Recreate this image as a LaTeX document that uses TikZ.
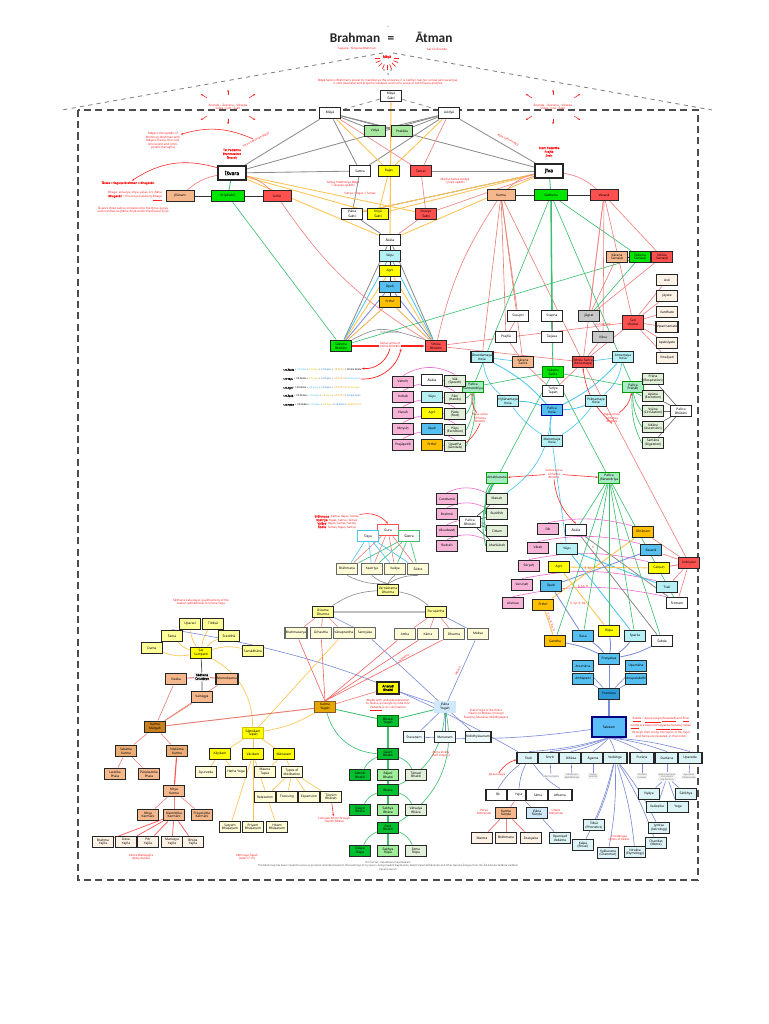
\documentclass[tikz,border=0pt]{standalone}
\usepackage{fontspec}
\setmainfont{Noto Sans}[AutoFakeBold=2]
\newfontfamily\titlefont{Carlito}
\usetikzlibrary{arrows.meta,calc}
\definecolor{vayuCyan}{HTML}{B4F0F4}
\definecolor{agniYellow}{HTML}{FFFF00}
\definecolor{apahBlue}{HTML}{55BFF0}
\definecolor{prthviOrange}{HTML}{FFC000}
\definecolor{sattvaGreen}{HTML}{00E600}
\definecolor{tamasRed}{HTML}{FF5050}
\definecolor{karmaTan}{HTML}{F4B88C}
\definecolor{mintGreen}{HTML}{A6EBC4}
\definecolor{paleGreen}{HTML}{E2F0D9}
\definecolor{vidyaGreen}{HTML}{A9E8A0}
\definecolor{devaPink}{HTML}{F7B3D6}
\definecolor{vikaraBeige}{HTML}{FDF2E6}
\definecolor{creamYellow}{HTML}{FFFDD8}
\definecolor{paleYellow}{HTML}{FFFF99}
\definecolor{jagratGrey}{HTML}{C8C8C8}
\definecolor{karmaBronze}{HTML}{C8801E}
\definecolor{karmaOrange}{HTML}{E6A800}
\definecolor{jnanaBlue}{HTML}{CFE8FA}
\definecolor{darkGreen}{HTML}{00C030}
\definecolor{paleCyan}{HTML}{DDF4F6}
\definecolor{pramanaBlue}{HTML}{2E9BD8}
\definecolor{sabdamBlue}{HTML}{5BBDF5}
\definecolor{lineGrey}{HTML}{8C8C8C}
\definecolor{lineRed}{HTML}{F08080}
\definecolor{lineGreen}{HTML}{3CBF6E}
\definecolor{lineCyan}{HTML}{49C6F0}
\definecolor{lineBlue}{HTML}{7C8CD6}
\definecolor{lineOrange}{HTML}{FFC34D}
\definecolor{linePink}{HTML}{F06CD0}
\definecolor{noteRed}{HTML}{FF2020}
\definecolor{textGrey}{HTML}{707070}
\definecolor{vayuTxt}{HTML}{40C0F0}
\definecolor{agniTxt}{HTML}{D4C000}
\definecolor{apahTxt}{HTML}{2A7FD0}
\definecolor{prthviTxt}{HTML}{F0A000}
\pgfdeclarelayer{bg}
\pgfsetlayers{bg,main}

\begin{document}
\begin{tikzpicture}[x=0.25mm,y=-0.25mm,
  box/.style={draw=black!85,line width=0.6pt,fill=white,align=center,inner sep=0.6pt,
    minimum width=15pt,minimum height=8pt,font=\fontsize{2.3}{2.6}\selectfont},
  thickbox/.style={box,line width=1.1pt},
  note/.style={text=noteRed,align=center,inner sep=0.3pt,font=\fontsize{2.1}{2.5}\selectfont},
  gnote/.style={text=textGrey,align=center,inner sep=0.3pt,font=\fontsize{1.6}{1.9}\selectfont},
  formula/.style={anchor=west,inner sep=0pt,font=\fontsize{1.7}{2}\selectfont},
  titletext/.style={anchor=base,inner sep=0pt,text=black!85,font=\titlefont\bfseries\fontsize{9.5}{9.5}\selectfont},
  edge/.style={line width=0.45pt}]
\useasboundingbox (0,0) rectangle (768,1024);

% ---------- title ----------
\node[titletext] (brahman) at (355,43) {Brahman};
\node[titletext] (equals) at (391,43) {=};
\node[titletext] (atman) at (434,43) {Ātman};
\node[note] (brahmanSub) at (357,49) {Saguṇa · Nirguṇa Brahman};
\node[note] (atmanSub) at (437,49) {Sat Cit Ānanda};
\node[note] (om) at (388,27) {*};
\node[note,font=\bfseries\fontsize{2.3}{2.6}\selectfont] (mayaTop) at (387,57) {Māyā};
\foreach \a in {0,22.5,...,180}
  \draw[noteRed,line width=0.5pt] ($(387,58)+(\a:7)$) -- ($(387,58)+(\a:12)$);
\foreach \p in {(384,70),(391,70),(388,74)} \fill[gray] \p circle (0.7pt);
\node[note] (mayaText) at (388,82) {Māyā Śakti is Brahman's power to manifest as the universe; it is neither real nor unreal (anirvacanīya),\\it veils (āvaraṇa) and projects (vikṣepa), and is the cause of both Īśvara and Jīva};
\coordinate (roofL) at (62,110);
\coordinate (roofR) at (712,110);
\draw[dashed,gray,line width=0.6pt] (383,53) -- (roofL);
\draw[dashed,gray,line width=0.6pt] (393,53) -- (roofR);
\draw[black!70,line width=0.9pt,dash pattern=on 5pt off 3pt] (78,110) rectangle (698,880);

% ---------- maya, isvara, jiva ----------
\node[thickbox] (mayasakti) at (391,96) {Māyā\\Śakti};
\node[thickbox] (maya) at (330,113) {Māyā};
\node[thickbox] (avidya) at (449,113) {Avidyā};
\node[box,fill=vidyaGreen] (vidya) at (375,131) {Vidyā};
\node[box,fill=vidyaGreen] (prakasa) at (402,131) {Prakāśa};
\node[thickbox,font=\bfseries\fontsize{3.6}{4}\selectfont,minimum width=20pt,minimum height=10pt] (isvara) at (232,173) {Īśvara};
\node[thickbox,font=\bfseries\fontsize{3.6}{4}\selectfont,minimum width=20pt,minimum height=10pt] (jiva) at (549,171) {Jīva};
\node[box] (sattva) at (360,171) {Sattva};
\node[box,fill=agniYellow] (rajas) at (389,171) {Rajas};
\node[box,fill=tamasRed] (tamas) at (421,171) {Tamas};
\node[box] (jnanaSakti) at (352,214) {Jñāna\\Śakti};
\node[box,fill=agniYellow] (kriyaSakti) at (378,214) {Kriyā\\Śakti};
\node[box,fill=tamasRed] (dravyaSakti) at (426,214) {Dravya\\Śakti};
\node[box,fill=karmaTan,minimum width=20pt] (jnanam) at (180,196) {Jñānam};
\node[box,fill=sattvaGreen,minimum width=24pt] (kriya) at (228,196) {Kriyāśakti};
\node[box,fill=tamasRed,minimum width=20pt] (iccha) at (277,196) {Icchā};
\node[box,fill=karmaTan,minimum width=20pt] (karma) at (501,195) {Karma};
\node[box,fill=sattvaGreen,minimum width=24pt] (sadhana) at (551,195) {Sādhana};
\node[box,fill=tamasRed,minimum width=20pt] (vasana) at (604,195) {Vāsanā};

\node[note,font=\bfseries\fontsize{2.1}{2.7}\selectfont] (tatNote) at (232,154) {Tat Padārtha\\Brahmasūtra\\Īśvaraḥ};
\node[note,font=\bfseries\fontsize{2.1}{2.7}\selectfont] (tvamNote) at (549,152) {Tvam Padārtha\\Prajñā\\Jīvaḥ};
\node[note] (upadhiNote) at (163,141) {Māyā is the upādhi of\\Brahman; Brahman with\\Māyā is Īśvara, the Lord,\\omniscient and omni-\\potent (Sarvajña)};
\node[note,rotate=28] (sarvaNote) at (256,140) {Sarva-śaktimān Māyā};
\node[note,rotate=-28] (alpaNote) at (508,140) {Alpa-śakti Avidyā};
\node[note,font=\bfseries\fontsize{2.1}{2.5}\selectfont] (bhagaNote) at (128,183) {Īśvara = Saguṇa Brahman = Bhagavān};
\node[note] (bhagaNote2) at (135,196) {Bhaga: aiśvarya, vīrya, yaśas, śrī, jñāna\\\textbf{Bhagavān} = the one possessing \underline{Bhaga}};
\node[note] (saktiNote) at (133,210) {Īśvara's three śaktis correspond to the three guṇas\\and manifest as Jñāna, Kriyā and Icchā (Īśvara Sṛṣṭi)};
\node[note] (burstL) at (228,107) {Ānanda – Āvaraṇa – Vikṣepa\\Vidyā · Jyoti · Śakti};
\node[note] (burstR) at (553,107) {Ānanda – Āvaraṇa – Vikṣepa\\Vidyā · Jyoti · Śakti};
\foreach \b in {burstL,burstR}
  \foreach \dx/\dy in {-21/-9,0/-12,21/-9,-21/9,0/12,21/9}
    \draw[noteRed,line width=0.4pt,-{Stealth[length=1.6pt]}] ($(\b)+(\dx,\dy)$) -- ($(\b)+(1.3*\dx,1.45*\dy)$);
\node[note] (sattvaPrad) at (343,184) {Sattva Prādhānya Māyā\\= Īśvara's upādhi};
\node[note] (gunaNote) at (360,194) {Sattva + Rajas + Tamas};
\node[note] (malinaNote) at (455,181) {Malina Sattva Avidyā\\= Jīva's upādhi};

% ---------- elements column ----------
\foreach \n/\y/\c/\t in {akasa/240/white/Ākāśa, vayu/256/vayuCyan/Vāyu, agni/271/agniYellow/Agni, apah/287/apahBlue/Āpaḥ, prthvi/302/prthviOrange/Pṛthvī}
  \node[thickbox,fill=\c] (\n) at (390,\y) {\t};
\node[thickbox,fill=sattvaGreen] (suksma) at (341,346) {Sūkṣma\\Bhūtāni};
\node[thickbox,fill=tamasRed] (sthula) at (436,346) {Sthūla\\Bhūtāni};
\node[gnote,font=\fontsize{2}{2.3}\selectfont] (panci) at (390,333) {Pañcīkaraṇam};
\node[note,fill=white] (tamasAmsa) at (390,345) {Tamas aṃśa of\\Pañca Bhūtāni};
\node[formula] (row1) at (283,370) {\textbf{1/2 Ākāśa} + \textcolor{vayuTxt}{1/8 Vāyu} + \textcolor{agniTxt}{1/8 Agni} + \textcolor{apahTxt}{1/8 Āpaḥ} + \textcolor{prthviTxt}{1/8 Pṛthvī} = Sthūla Ākāśa};
\node[formula] (row2) at (283,379) {\textbf{1/2 Vāyu} + 1/8 Ākāśa + \textcolor{agniTxt}{1/8 Agni} + \textcolor{apahTxt}{1/8 Āpaḥ} + \textcolor{prthviTxt}{1/8 Pṛthvī} = \textcolor{vayuTxt}{Sthūla Vāyu}};
\node[formula] (row3) at (283,388) {\textbf{1/2 Agni} + 1/8 Ākāśa + \textcolor{vayuTxt}{1/8 Vāyu} + \textcolor{apahTxt}{1/8 Āpaḥ} + \textcolor{prthviTxt}{1/8 Pṛthvī} = \textcolor{agniTxt}{Sthūla Agni}};
\node[formula] (row4) at (283,396) {\textbf{1/2 Āpaḥ} + 1/8 Ākāśa + \textcolor{vayuTxt}{1/8 Vāyu} + \textcolor{agniTxt}{1/8 Agni} + \textcolor{prthviTxt}{1/8 Pṛthvī} = \textcolor{apahTxt}{Sthūla Āpaḥ}};
\node[formula] (row5) at (283,405) {\textbf{1/2 Pṛthvī} + 1/8 Ākāśa + \textcolor{vayuTxt}{1/8 Vāyu} + \textcolor{agniTxt}{1/8 Agni} + \textcolor{apahTxt}{1/8 Āpaḥ} = \textcolor{prthviTxt}{Sthūla Pṛthvī}};

% ---------- avasthas, sariras, kosas ----------
\node[box,fill=karmaTan] (sk1) at (617,257) {Kāraṇa\\Samaṣṭi};
\node[box,fill=sattvaGreen] (sk2) at (640,257) {Sūkṣma\\Samaṣṭi};
\node[box,fill=tamasRed] (sk3) at (662,257) {Sthūla\\Samaṣṭi};
\node[box] (susupti) at (518,316) {Suṣupti};
\node[box] (svapna) at (552,316) {Svapna};
\node[box,fill=jagratGrey] (jagrat) at (589,316) {Jāgrat};
\node[box] (prajna) at (506,337) {Prajñā};
\node[box] (taijasa) at (552,337) {Taijasa};
\node[box,fill=jagratGrey] (visva) at (603,337) {Viśva};
\node[note] (parinama) at (603,325) {pariṇāmāḥ};
\node[box,fill=tamasRed,minimum height=10pt] (sadvik) at (633,322) {Ṣaḍ\\Vikāras};
\foreach \n/\y/\t in {asti/280/Asti, jayate/296/Jāyate, vardhate/312/Vardhate, viparin/327/Vipariṇamate, apaksiyate/343/Apakṣīyate, vinasyati/358/Vinaśyati}
  \node[thickbox,fill=vikaraBeige] (\n) at (667,\y) {\t};
\node[thickbox,fill=vayuCyan] (anandamaya) at (482,357) {Ānandamaya\\Kośa};
\node[box,fill=karmaTan] (karana) at (523,362) {Kāraṇa\\Śarīra};
\node[box,fill=tamasRed] (sthularir) at (583,362) {Sthūla Śarīra\\(Annamaya)};
\node[thickbox,fill=vayuCyan] (annamaya) at (623,357) {Annamaya\\Kośa};
\node[box,fill=sattvaGreen,draw=green!50!black] (suksmasar) at (553,372) {Sūkṣma\\Śarīra};
\node[box] (turiya) at (553,391) {Turīya\\Tapaḥ};
\node[box,fill=mintGreen,draw=green!60!black] (karmendriya) at (473,387) {Pañca\\Karmendriya};
\node[box,fill=mintGreen,draw=green!60!black] (prana5) at (633,387) {Pañca\\Prāṇāḥ};
\node[thickbox,fill=vayuCyan] (vijnanamaya) at (508,401) {Vijñānamaya\\Kośa};
\node[box,fill=apahBlue,draw=blue!60!black] (pancakosa) at (552,410) {Pañca\\Kośa};
\node[thickbox,fill=vayuCyan] (pranamaya) at (596,401) {Prāṇamaya\\Kośa};
\node[thickbox,fill=vayuCyan] (manomaya) at (552,441) {Manomaya\\Kośa};
\foreach \n/\y/\t in {dv1/382/Vahniḥ, dv2/397/Indraḥ, dv3/413/Viṣṇuḥ, dv4/429/Mṛtyuḥ, dv5/445/Prajāpatiḥ}
  \node[thickbox,fill=devaPink] (\n) at (403,\y) {\t};
\foreach \n/\y/\c/\t in {ek1/380/white/Ākāśa, ek2/397/vayuCyan/Vāyu, ek3/413/agniYellow/Agni, ek4/429/apahBlue/Āpaḥ, ek5/445/prthviOrange/Pṛthvī}
  \node[thickbox,fill=\c] (\n) at (432,\y) {\t};
\foreach \n/\y/\t in {or1/381/Vāk\\(Speech), or2/398/Pāṇi\\(Hands), or3/414/Pāda\\(Feet), or4/430/Pāyu\\(Excretion), or5/446/Upastha\\(Genitals)}
  \node[thickbox,fill=paleGreen] (\n) at (455,\y) {\t};
\foreach \n/\y/\t in {pv1/379/Prāṇa\\(Respiration), pv2/396/Apāna\\(Excretion), pv3/411/Vyāna\\(Circulation), pv4/427/Udāna\\(Ascension), pv5/443/Samāna\\(Digestion)}
  \node[thickbox,fill=paleGreen] (\n) at (653,\y) {\t};
\node[box] (pvayu) at (681,411) {Pañca\\Bhūtāni};
\node[note] (rajasL) at (480,418) {Rajas aṃśa\\of Pañca\\Bhūtāni};
\node[note] (rajasR) at (612,418) {Rajas aṃśa\\of Pañca\\Bhūtāni};

% ---------- antahkarana, jnanendriya ----------
\node[box,fill=mintGreen,draw=green!60!black] (antah) at (497,478) {Antaḥkaraṇa};
\node[box,fill=mintGreen,draw=green!60!black] (jnanendriya) at (609,478) {Pañca\\Jñānendriya};
\node[note] (sattvaAmsa) at (554,474) {Sattva aṃśa\\of Pañca\\Bhūtāni};
\foreach \n/\y/\t in {dp1/499/Candramā, dp2/514/Brahmā, dp3/531/Vāsudevaḥ, dp4/546/Rudraḥ}
  \node[thickbox,fill=devaPink] (\n) at (447,\y) {\t};
\node[box] (pbhut) at (470,522) {Pañca\\Bhūtāni};
\foreach \n/\y/\t in {ak1/499/Manaḥ, ak2/514/Buddhiḥ, ak3/531/Cittam, ak4/546/Ahaṅkāraḥ}
  \node[thickbox,fill=paleGreen] (\n) at (497,\y) {\t};
\foreach \n/\x/\y/\t in {dj1/548/529/Dik, dj2/538/548/Vātaḥ, dj3/529/566/Sūryaḥ, dj4/522/585/Varuṇaḥ, dj5/513/603/Aśvinau}
  \node[thickbox,fill=devaPink] (\n) at (\x,\y) {\t};
\foreach \n/\x/\y/\c/\t in {ej1/576/530/white/Ākāśa, ej2/567/549/vayuCyan/Vāyu, ej3/559/567/agniYellow/Agni, ej4/551/586/apahBlue/Āpaḥ, ej5/543/605/prthviOrange/Pṛthvī}
  \node[thickbox,fill=\c] (\n) at (\x,\y) {\t};
\foreach \n/\x/\y/\c/\t in {ij1/643/532/prthviOrange/Ghrāṇam, ij2/651/550/apahBlue/Rasanā, ij3/659/568/agniYellow/Cakṣuḥ, ij4/667/587/vayuCyan/Tvak, ij5/677/603/white/Śrotram}
  \node[thickbox,fill=\c] (\n) at (\x,\y) {\t};
\node[thickbox,fill=tamasRed] (indriyani) at (689,563) {Indriyāṇi};
\foreach \n/\x/\y/\c/\t in {gandha/555/641/prthviOrange/Gandha, rasa/583/636/apahBlue/Rasa, rupa/609/631/agniYellow/Rūpa, sparsa/635/636/vayuCyan/Sparśa, sabda/662/641/white/Śabda}
  \node[thickbox,fill=\c] (\n) at (\x,\y) {\t};
\node[note] (gl1) at (593,547) {Ś};
\node[note] (gl2) at (588,568) {Ś, Sp};
\node[note] (gl3) at (583,586) {Ś, Sp, R};
\node[note] (gl4) at (578,603) {Ś, Sp, R, Ra};
\node[note,rotate=-70] (gl5) at (551,622) {Ś, Sp, R, Ra, G};

% ---------- pramana, sabda ----------
\node[thickbox,fill=apahBlue] (pratyaksa) at (609,659) {Pratyakṣa};
\node[thickbox,fill=apahBlue] (anumana) at (583,666) {Anumāna};
\node[thickbox,fill=apahBlue] (upamana) at (636,666) {Upamāna};
\node[box,fill=apahBlue] (arthapatti) at (583,679) {Arthāpatti};
\node[box,fill=apahBlue] (anupalabdhi) at (636,679) {Anupalabdhi};
\node[thickbox,fill=pramanaBlue] (pramana) at (609,694) {Pramāṇa};
\node[thickbox,fill=sabdamBlue,draw=blue!50!black,minimum width=24pt,minimum height=14pt] (sabdam) at (609,727) {Śabdam};
\node[note,anchor=west] (sabdamNote) at (630,727) {\underline{Śabda} = \underline{Apauruṣeya} \underline{(Revealed)} and \underline{Śruti}\\ \underline{words} are beyond \underline{Pratyakṣa} \underline{(Senses)}; taken\\ through their study, the topics of Ṛk, Yajur\\ and Sāma are revealed, in that order};
\foreach \n/\x/\t in {sruti/529/Śruti / Veda, smrti/550/Smṛti, itihasa/571/Itihāsa, agama/593/Āgama, vedanga/615/Vedāṅga, purana/642/Purāṇa, darsana/667/Darśana, upaveda/690/Upaveda}
  \node[thickbox,fill=paleCyan,minimum width=17pt] (\n) at (\x,758) {\t};
\foreach \n/\x/\t in {smrti/551/Dharma Śāstra, itihasa/572/Rāmāyaṇa\\Mahābhārata, agama/593/Tantra\\Saṃhitā, purana/642/18 Mahā\\Purāṇas, upaveda/689/Āyurveda\\Dhanurveda}
  \node[gnote,fill=black!5] (\n Note) at (\x,776) {\t};
\node[gnote,fill=black!5] (darsanaNote) at (667,777) {Āstika Darśanas\\Six Systems\\Ṣaḍ Darśana};
\node[note] (apaur) at (497,775) {Apauruṣeya};
\foreach \n/\x/\t in {rk/498/Ṛk, yajur/519/Yajur, sama/538/Sāma, atharva/560/Atharva}
  \node[thickbox,minimum width=17pt] (\n) at (\x,795) {\t};
\node[thickbox,fill=karmaTan] (karmak) at (506,813) {Karma\\Kāṇḍa};
\node[thickbox,fill=jnanaBlue] (jnanak) at (537,813) {Jñāna\\Kāṇḍa};
\node[note] (purva) at (484,812) {Pūrva\\Mīmāṃsā};
\node[note] (uttara) at (556,812) {Uttara\\Mīmāṃsā};
\foreach \n/\x/\t in {mantra/482/Mantra, brahmanaV/506/Brāhmaṇa, aranyaka/531/Āraṇyaka}
  \node[thickbox,fill=vikaraBeige] (\n) at (\x,838) {\t};
\node[thickbox,fill=paleCyan] (upanisad) at (560,838) {Upaniṣad\\Vedānta};
\foreach \n/\x/\y/\t in {siksa/594/825/Śikṣā\\(Phonetics), kalpa/583/845/Kalpa\\(Ritual), vyakarana/608/853/Vyākaraṇa\\(Grammar), nirukta/635/852/Nirukta\\(Etymology), chandas/656/843/Chandas\\(Metre), jyotisa/659/828/Jyotiṣa\\(Astrology)}
  \node[thickbox,fill=paleCyan] (\n) at (\x,\y) {\t};
\node[note] (vedangaNote) at (619,838) {6 Vedāṅgas\\Limbs of Vedas};
\foreach \n/\x/\y/\t in {nyaya/649/794/Nyāya, sankhya/686/794/Sāṅkhya, vaisesika/657/807/Vaiśeṣika, yoga/678/807/Yoga}
  \node[thickbox,fill=paleCyan] (\n) at (\x,\y) {\t};

% ---------- yogas ----------
\node[thickbox,fill=agniYellow,line width=1.4pt,font=\bfseries\fontsize{2.3}{2.6}\selectfont] (ananya) at (388,688) {Ananyā\\Bhakti};
\node[note] (ananyaNote) at (388,705) {Bhakti with undivided devotion\\to Īśvara, as taught by Gītā 9.22\\\underline{Vedānta} is its culmination};
\node[box,fill=karmaOrange,draw=brown!70!black] (karmay) at (325,707) {Karma\\Yogaḥ};
\node[box,fill=darkGreen,draw=green!40!black] (bhaktiy) at (388,721) {Bhakti\\Yogaḥ};
\node[box,fill=jnanaBlue,draw=jnanaBlue] (jnanay) at (445,707) {Jñāna\\Yogaḥ};
\foreach \n/\x/\t in {sravana/414/Śravaṇam, manana/445/Mananam, nididh/478/Nididhyāsanam}
  \node[thickbox,fill=paleCyan!50] (\n) at (\x,737) {\t};
\node[note] (jnanaNote) at (486,714) {Jñāna Yoga is the direct\\means to Mokṣa, through\\Śravaṇa, Manana, Nididhyāsana};
\node[note] (vicara) at (441,754) {Ātma Vicāra\\(Self Inquiry)};
\node[thickbox,fill=darkGreen] (gauni) at (388,754) {Gauṇī\\Bhakti};
\node[thickbox,fill=darkGreen] (bhava) at (388,790) {Bhāva};
\node[thickbox,fill=darkGreen] (prema) at (388,828) {Parā\\Bhakti};
\foreach \n/\y/\a/\b/\c in {gb/775/Sāttvikī\\Bhakti/Rājasī\\Bhakti/Tāmasī\\Bhakti, bb/810/Dāsya\\Bhāva/Sakhya\\Bhāva/Vātsalya\\Bhāva, pb/851/Dāsya\\Rūpa/Sakhya\\Rūpa/Ātma\\Rūpa}
{
  \node[thickbox,fill=darkGreen] (\n1) at (360,\y) {\a};
  \node[thickbox,fill=paleGreen!70!sattvaGreen] (\n2) at (388,\y) {\b};
  \node[thickbox,fill=paleGreen] (\n3) at (416,\y) {\c};
}

% ---------- guru, varna, asrama ----------
\node[note,anchor=west] (gunaVarna) at (314,522) {\textbf{Brāhmaṇa}: Sattva, Rajas, Tamas\\\textbf{Kṣatriya}: Rajas, Sattva, Tamas\\\textbf{Vaiśya}: Rajas, Tamas, Sattva\\\textbf{Śūdra}: Tamas, Rajas, Sattva};
\node[box,draw=tamasRed,line width=1pt] (guru) at (388,530) {Guru};
\node[box,draw=lineCyan,line width=1pt] (sisya) at (368,536) {Śiṣya};
\node[box,draw=lineGreen,line width=1pt] (sastra) at (409,536) {Śāstra};
\foreach \n/\x/\t in {varna1/347/Brāhmaṇa, varna2/372/Kṣatriya, varna3/395/Vaiśya, varna4/418/Śūdra}
  \node[thickbox,fill=creamYellow,draw=black!60] (\n) at (\x,569) {\t};
\node[thickbox,fill=paleYellow] (varnasrama) at (388,590) {Varṇāśrama\\Dharma};
\node[thickbox,fill=paleYellow] (asrama) at (323,612) {Āśrama\\Dharma};
\node[thickbox,fill=paleYellow] (purusartha) at (436,612) {Puruṣārtha};
\foreach \n/\x/\t in {as1/296/Brahmacarya, as2/321/Gṛhastha, as3/344/Vānaprastha, as4/365/Sannyāsa}
  \node[thickbox,fill=creamYellow,draw=black!60] (\n) at (\x,633) {\t};
\foreach \n/\x/\t in {pu1/405/Artha, pu2/428/Kāma, pu3/454/Dharma, pu4/478/Mokṣa}
  \node[thickbox,fill=creamYellow,draw=black!60] (\n) at (\x,634) {\t};
\node[note,rotate=35] (niskamaTag) at (404,658) {Niṣkāma};
\node[note,rotate=65] (moksaTag) at (458,671) {Mokṣa};

% ---------- sadhana catustaya ----------
\node[note] (sadhanaNote) at (201,602) {Sādhana Catuṣṭaya: qualifications of the\\seeker (adhikāritva) for Jñāna Yoga};
\node[thickbox,fill=agniYellow] (satsampatti) at (201,653) {Ṣaṭ\\Sampatti};
\foreach \n/\x/\y/\t in {uparati/190/624/Uparati, titiksa/213/624/Titikṣā, sama/172/636/Śama, sraddha/229/636/Śraddhā, dama/152/648/Dama, samadhana/253/651/Samādhāna}
  \node[thickbox,fill=paleYellow] (\n) at (\x,\y) {\t};
\node[fill=black!6,align=center,inner sep=0.6pt,font=\bfseries\fontsize{2.1}{2.5}\selectfont] (sadhanacat) at (202,677) {Sādhana\\Catuṣṭaya};
\node[thickbox,fill=karmaTan] (viveka) at (176,679) {Viveka};
\node[thickbox,fill=karmaTan] (mumuksutva) at (227,679) {Mumukṣutva};
\node[thickbox,fill=karmaTan] (vairagya) at (202,697) {Vairāgya};
\node[thickbox,fill=karmaBronze] (karmamarga) at (155,727) {Karma\\Mārgaḥ};
\node[thickbox,fill=karmaTan!80!karmaBronze] (sakama) at (126,751) {Sakāma\\Karma};
\node[thickbox,fill=karmaTan!80!karmaBronze] (niskama) at (177,751) {Niṣkāma\\Karma};
\node[thickbox,fill=karmaTan] (laukika) at (115,774) {Laukika\\Phala};
\node[thickbox,fill=karmaTan] (paraloka) at (149,774) {Pāralaukika\\Phala};
\node[thickbox,fill=karmaTan] (nityak) at (174,791) {Nitya\\Karma};
\foreach \n/\x/\t in {nk1/148/Nitya\\Karmāṇi, nk2/174/Naimittika\\Karmāṇi, nk3/202/Prāyaścitta\\Karmāṇi}
  \node[thickbox,fill=karmaTan] (\n) at (\x,815) {\t};
\foreach \n/\x/\t in {yj1/103/Brahma\\Yajña, yj2/126/Deva\\Yajña, yj3/148/Pitṛ\\Yajña, yj4/172/Manuṣya\\Yajña, yj5/193/Bhūta\\Yajña}
  \node[thickbox,fill=vikaraBeige] (\n) at (\x,842) {\t};
\node[note] (yajnaNote) at (141,857) {Pañca Mahāyajña\\(Daily duties)};

% ---------- tapas ----------
\node[box,fill=agniYellow,draw=agniTxt] (tapas) at (253,733) {Sāttvikam\\Tapaḥ};
\foreach \n/\x/\t in {kayikam/220/Kāyikam, vacikam/253/Vācikam, manasam/284/Mānasam}
  \node[thickbox,fill=agniYellow] (\n) at (\x,754) {\t};
\foreach \n/\x/\t in {ayurveda/206/Āyurveda, hatha/236/Haṭha Yoga, mauna/265/Mauna\\Tapas, dhyana/292/Types of\\Meditation}
  \node[thickbox,fill=creamYellow] (\n) at (\x,772) {\t};
\foreach \n/\x/\t in {relax/265/Relaxation, focus/287/Focusing, expand/309/Expansion, tusnim/331/Tūṣṇīm\\Bhāvaḥ}
  \node[thickbox,fill=creamYellow] (\n) at (\x,797) {\t};
\node[note] (dhrtiNote) at (334,820) {Cultivate Dhṛti through\\Tūṣṇīm Bhāva};
\foreach \n/\x/\t in {satyam/230/Satyam\\Bhāṣaṇam, priyam/253/Priyam\\Bhāṣaṇam, hitam/277/Hitam\\Bhāṣaṇam}
  \node[thickbox,fill=creamYellow] (\n) at (\x,827) {\t};
\node[note] (vanNote) at (247,857) {Vāṅmaya Tapaḥ\\(Gītā 17.15)};

% ---------- footer ----------
\node[gnote,font=\fontsize{1.8}{2.4}\selectfont,text=black!70] (footer) at (388,866) {Om Tat Sat · Vasudhaiva Kuṭumbakam\\This Mind-map has been created to serve as personal reminder based on the teachings of my Gurus, Ācārya Swāmī Dayānanda, Swāmī Paramārthānanda and other learned Ācāryas from the Ādi Advaita Vedānta tradition\\Parama Guruḥ};

% ---------- connectors ----------
\begin{pgfonlayer}{bg}
\draw[dashed,gray,line width=0.5pt] (mayasakti) -- (maya);
\draw[dashed,gray,line width=0.5pt] (mayasakti) -- (avidya);
\foreach \a/\b in {maya/isvara, maya/jiva, avidya/isvara, avidya/jiva, maya/vidya, maya/prakasa, avidya/vidya, avidya/prakasa, maya/sattva, avidya/sattva, isvara/sattva, tamas/jiva, sattva/jnanaSakti, akasa/jnanaSakti, jiva/jnanaSakti}
  \draw[edge,lineGrey,line width=0.6pt] (\a) -- (\b);
\foreach \a/\b in {maya/rajas, avidya/rajas, rajas/kriyaSakti, isvara/kriyaSakti, isvara/dravyaSakti, isvara/akasa, jiva/kriyaSakti, jiva/jnanaSakti, jiva/akasa}
  \draw[edge,lineOrange,line width=0.6pt] (\a) -- (\b);
\draw[edge,lineOrange,line width=0.8pt] (mayasakti) -- (akasa);
\foreach \a/\b in {maya/tamas, avidya/tamas, tamas/dravyaSakti, jiva/dravyaSakti, akasa/dravyaSakti}
  \draw[edge,lineRed] (\a) -- (\b);
\draw[edge,lineRed] (isvara) to[bend right=15] (jnanam);
\draw[edge,lineRed] (isvara) to[bend left=15] (iccha);
\draw[edge,lineGreen,line width=0.6pt] (isvara) -- (kriya);
\draw[edge,lineRed] (jiva) to[bend right=15] (karma);
\draw[edge,lineRed] (jiva) to[bend left=15] (vasana);
\draw[edge,lineGreen,line width=0.6pt] (jiva) -- (sadhana);
\draw[black!80,line width=0.6pt] (jnanam) -- (kriya) -- (iccha);
\draw[black!80,line width=0.6pt] (karma) -- (sadhana) -- (vasana);
\draw[noteRed,line width=0.4pt,-{Stealth[length=1.8pt]}] (sarvaNote) to[bend right=20] (upadhiNote);
\draw[noteRed,line width=0.4pt,-{Stealth[length=1.8pt]}] (isvara) to[bend right=25] (bhagaNote);
% elements
\draw[black!80,line width=0.5pt] (akasa) -- (vayu) -- (agni) -- (apah) -- (prthvi);
\foreach \n/\c in {akasa/lineGrey, vayu/lineCyan, agni/lineOrange, apah/lineBlue, prthvi/lineOrange!70!brown}
{
  \draw[edge,\c,line width=0.6pt] (\n) -- (suksma);
  \draw[edge,\c,line width=0.6pt] (\n) -- (sthula);
}
\draw[edge,lineGrey] (suksma.north east) .. controls (380,326) .. (sthula.north west);
\draw[noteRed,line width=0.8pt,-{Stealth[length=2.5pt]}] (suksma) -- (sthula);
\draw[noteRed,line width=0.5pt,-{Stealth[length=2pt]}] (tamasAmsa.south) to[bend left=40] (row1.north east);
\draw[noteRed,line width=0.5pt,-{Stealth[length=2pt]}] (row2.east) to[bend right=40] (tamasAmsa.south east);
\draw[edge,lineGreen] (kriya) -- (suksma);
\draw[edge,lineRed] (iccha) to[bend right=12] (sthula);
\draw[edge,lineGreen] (suksma) -- (sk2);
\draw[edge,lineRed] (sthula) -- (sadvik);
\draw[edge,lineRed] (sthula) to[bend left=10] (karma);
% jiva's fan
\foreach \b in {susupti, prajna, karana, sthularir, anandamaya}
  \draw[edge,lineRed!80!brown] (karma) -- (\b);
\foreach \b in {suksmasar, karmendriya, prana5, svapna, sk2}
  \draw[edge,lineGreen] (sadhana) -- (\b);
\draw[lineGreen,line width=1pt] (sadhana) -- (taijasa);
\foreach \b in {jagrat, visva, sk3, sadvik, sthularir}
  \draw[edge,lineRed] (vasana) -- (\b);
\draw[black!80,line width=0.5pt] (sk1) -- (sk2) -- (sk3);
\draw[edge,lineRed!80!brown] (sk1) -- (jagrat);
\draw[edge,lineGreen] (sk2) -- (jagrat);
\draw[edge,lineRed] (sk3) -- (jagrat);
\draw[edge,lineGrey] (jagrat) -- (visva);
\draw[edge,lineRed] (susupti) -- (prajna);
\draw[edge,lineGrey] (svapna) -- (taijasa);
\foreach \b in {asti, jayate, vardhate, viparin, apaksiyate, vinasyati}
  \draw[edge,lineRed] (sadvik) -- (\b);
\draw[edge,lineRed] (sadvik) -- (sthularir);
\draw[edge,lineRed] (prajna) -- (karana);
\draw[edge,lineRed] (visva) -- (sthularir);
\draw[edge,lineGreen] (taijasa) -- (suksmasar);
\draw[edge,lineRed] (karana) -- (turiya);
\draw[edge,lineRed] (sthularir) -- (turiya);
\draw[edge,lineRed] (sthula) -- (sthularir);
% kosas
\foreach \a in {anandamaya, vijnanamaya, pranamaya, annamaya, manomaya}
  \draw[edge,lineCyan,line width=0.6pt] (\a) to[bend left=10] (pancakosa);
\draw[edge,lineCyan] (anandamaya) -- (karana);
\draw[edge,lineCyan] (annamaya) -- (sthularir);
\draw[edge,lineCyan] (anandamaya) to[bend right=20] (vijnanamaya);
\draw[edge,lineCyan] (annamaya) to[bend left=20] (pranamaya);
\draw[edge,lineCyan] (vijnanamaya) to[bend right=10] (manomaya);
\draw[edge,lineCyan] (pranamaya) to[bend left=10] (manomaya);
\draw[edge,lineCyan] (pancakosa) to[bend left=25] (ak1);
\draw[edge,lineCyan] (manomaya) -- (ej2);
\draw[edge,lineGreen] (suksmasar) -- (karmendriya);
\draw[edge,lineGreen] (suksmasar) -- (prana5);
\draw[edge,lineGreen] (suksmasar) -- (antah);
\draw[edge,lineGreen] (suksmasar) -- (jnanendriya);
\foreach \i in {1,...,5}
{
  \draw[edge,linePink] (dv\i.north) to[bend left=30] (or\i.north);
  \draw[black!80,line width=0.5pt] (ek\i) -- (or\i);
  \draw[edge,lineGreen] (karmendriya) to[bend left=15] (or\i.east);
  \draw[edge,lineGreen] (prana5) to[bend right=15] (pv\i.west);
  \draw[edge,black!60] (pv\i) -- (pvayu);
}
\draw[noteRed,line width=0.4pt,-{Stealth[length=1.8pt]}] (rajasL) to[bend left=20] (karmendriya);
\draw[noteRed,line width=0.4pt,-{Stealth[length=1.8pt]}] (rajasR) to[bend right=20] (prana5);
\draw[noteRed,line width=0.4pt,-{Stealth[length=1.8pt]}] (rajasL.south) to[bend left=30] (ek5.south east);
\draw[noteRed,line width=0.4pt,-{Stealth[length=1.8pt]}] (rajasR.south) to[bend left=20] (sthularir.south);
% antahkarana
\foreach \i in {1,...,4}
{
  \draw[edge,linePink] (dp\i.north) to[bend left=25] (ak\i.north west);
  \draw[edge,black!70] (pbhut) -- (ak\i);
  \draw[edge,lineGreen,line width=0.6pt] (antah) to[bend right=20] (ak\i.west);
}
\draw[noteRed,line width=0.4pt,-{Stealth[length=1.8pt]}] (sattvaAmsa) -- (antah);
\draw[noteRed,line width=0.4pt,-{Stealth[length=1.8pt]}] (sattvaAmsa) -- (jnanendriya);
\draw[noteRed,line width=0.4pt,-{Stealth[length=1.8pt]}] (sattvaAmsa.south) to[bend right=20] (ej1.north);
\foreach \i in {1,...,5}
{
  \draw[edge,linePink] (dj\i.north) to[bend left=12] (ij\i.north west);
  \draw[edge,lineRed] (ij\i) -- (indriyani);
}
\foreach \e/\i/\c in {ej1/ij5/lineGrey, ej2/ij4/lineCyan, ej3/ij3/lineOrange, ej4/ij2/lineBlue, ej5/ij1/lineOrange}
  \draw[edge,\c,line width=0.6pt] (\e) -- (\i);
\foreach \e/\t/\c in {ej1/sabda/lineGrey, ej2/sparsa/lineCyan, ej3/rupa/lineOrange, ej4/rasa/lineBlue, ej5/gandha/lineOrange}
  \draw[edge,\c,line width=0.6pt] (\e) -- (\t);
\foreach \t in {gandha, rasa, rupa, sparsa, sabda, ej1, ij5}
  \draw[edge,lineGreen] (jnanendriya) -- (\t);
\draw[edge,lineRed] (sthularir) -- (indriyani);
\draw[edge,lineRed] (indriyani) -- (ij3);
\foreach \t in {gandha, rasa, rupa, sparsa, sabda}
  \draw[edge,lineBlue,line width=0.6pt] (\t) to[bend left=8] (pratyaksa);
\draw[edge,lineBlue] (pratyaksa) -- (pramana);
\foreach \t in {anumana, upamana, arthapatti, anupalabdhi}
  \draw[edge,lineBlue] (\t) -- (pramana);
\draw[lineBlue,line width=1pt] (pramana) -- (sabdam);
% scriptures
\foreach \t in {sruti, smrti, itihasa, agama, vedanga, purana, darsana, upaveda}
  \draw[edge,lineBlue] (sabdam.south) to[bend left=6] (\t.north);
\foreach \t in {smrti, itihasa, agama, purana, upaveda}
  \draw[edge,lineBlue] (\t) -- (\t Note);
\draw[edge,lineBlue] (darsana) -- (darsanaNote);
\foreach \t in {nyaya, sankhya, vaisesika, yoga}
  \draw[edge,lineBlue] (darsanaNote) -- (\t);
\foreach \t in {rk, yajur, sama, atharva}
  \draw[edge,lineBlue] (sruti) to[bend right=10] (\t.north);
\draw[noteRed,line width=0.4pt,-{Stealth[length=1.8pt]}] (apaur) to[bend left=20] (sruti);
\draw[edge,lineRed] (yajur) -- (karmak);
\draw[edge,lineBlue] (yajur) -- (jnanak);
\foreach \t in {mantra, brahmanaV, aranyaka}
  \draw[lineRed,line width=0.6pt] (karmak) -- (\t);
\draw[edge,lineBlue] (jnanak) -- (upanisad);
\foreach \t in {siksa, kalpa, vyakarana, nirukta, chandas, jyotisa}
  \draw[edge,lineBlue] (vedanga) to[bend left=6] (\t);
% yogas
\draw[edge,lineBlue] (sabdam) to[bend left=5] (sravana);
\foreach \t in {sravana, manana, nididh}
  \draw[edge,lineBlue] (jnanay) -- (\t);
\draw[edge,lineBlue] (ananya) -- (jnanay);
\draw[edge,lineRed] (ananya) -- (karmay);
\draw[edge,lineGreen,line width=0.6pt] (karmay) -- (bhaktiy);
\draw[edge,lineGreen,line width=0.6pt] (jnanay) -- (bhaktiy);
\draw[lineGreen,line width=1pt] (bhaktiy) -- (gauni);
\draw[edge,lineGreen] (karmay) to[bend right=35] (gauni);
\draw[edge,lineGreen] (jnanay) to[bend left=30] (bhava);
\draw[edge,lineGreen] (jnanay) to[bend left=35] (prema);
\draw[lineGreen,line width=0.8pt] (gauni) -- (gb2) -- (bhava) -- (bb2) -- (prema) -- (pb2);
\foreach \p/\t in {gauni/gb, bhava/bb, prema/pb}
{
  \draw[edge,lineGreen] (\p) to[bend right=20] (\t1);
  \draw[edge,lineGreen] (\p) to[bend left=20] (\t3);
}
% guru and varna
\draw[noteRed,line width=0.4pt,-{Stealth[length=1.8pt]}] (gunaVarna.north east) to[bend left=30] (guru.north);
\foreach \v in {varna1, varna2, varna3, varna4}
{
  \draw[edge,lineRed] (guru) -- (\v);
  \draw[edge,lineCyan] (sisya) -- (\v);
  \draw[edge,lineGreen] (sastra) -- (\v);
  \draw[edge,lineGrey] (\v.south) to[bend right=15] (varnasrama.north);
}
\draw[edge,lineGrey] (varnasrama) to[bend right=15] (asrama);
\draw[edge,lineGrey] (varnasrama) to[bend left=15] (purusartha);
\draw[black!25,line width=1.2pt] (asrama) -- (purusartha);
\foreach \t in {as1, as2, as3}
  \draw[edge,lineRed] (asrama) -- (\t);
\draw[edge,lineBlue] (asrama) -- (as4);
\foreach \t in {pu1, pu2, pu3}
  \draw[edge,lineRed] (purusartha) -- (\t);
\draw[edge,lineBlue] (purusartha) -- (pu4);
\foreach \t in {as1, as2, pu1, pu2, pu3}
  \draw[edge,lineRed!80!red] (karmay.north) -- (\t);
\draw[edge,lineBlue] (jnanay) -- (as4);
\draw[edge,lineBlue] (jnanay) -- (pu4);
\draw[edge,lineOrange] (as3) -- (tapas);
% sadhana catustaya
\foreach \t in {uparati, titiksa, sama, sraddha, dama, samadhana}
  \draw[edge,lineOrange] (satsampatti) to[bend left=15] (\t);
\draw[black!70,line width=0.5pt] (satsampatti) -- (sadhanacat) -- (vairagya);
\draw[tamasRed,line width=0.6pt] (viveka) -- (sadhanacat) -- (mumuksutva);
\foreach \t in {viveka, mumuksutva, vairagya}
  \draw[edge,lineRed!80!brown] (\t) -- (karmamarga);
\draw[edge,lineOrange] (satsampatti) to[bend left=30] (tapas);
\draw[edge,lineRed!80!brown,line width=0.7pt] (karmay) -- (karmamarga);
\draw[edge,lineOrange] (karmay) to[bend left=10] (tapas);
\draw[edge,lineRed] (karmamarga) -- (sakama);
\draw[edge,lineRed] (karmamarga) -- (niskama);
\draw[edge,lineRed] (sakama) -- (laukika);
\draw[edge,lineRed] (sakama) -- (paraloka);
\draw[tamasRed,line width=0.8pt] (niskama) -- (nityak);
\foreach \t in {nk1, nk2, nk3}
  \draw[edge,lineRed] (nityak) -- (\t);
\foreach \t in {yj1, yj2, yj3, yj4, yj5}
  \draw[tamasRed,line width=0.5pt] (nk2) -- (\t);
\foreach \t in {kayikam, vacikam, manasam}
  \draw[edge,lineOrange] (tapas) -- (\t);
\draw[edge,lineOrange] (kayikam) -- (ayurveda);
\draw[edge,lineOrange] (kayikam) -- (hatha);
\draw[edge,lineOrange] (manasam) -- (mauna);
\draw[edge,lineOrange] (manasam) -- (dhyana);
\foreach \t in {relax, focus, expand, tusnim}
  \draw[edge,lineOrange] (dhyana) -- (\t);
\foreach \t in {satyam, priyam, hitam}
  \draw[edge,lineOrange] (vacikam) -- (\t);
\draw[noteRed,line width=0.4pt,-{Stealth[length=1.8pt]}] (tusnim) -- (dhrtiNote);
\end{pgfonlayer}
\end{tikzpicture}
\end{document}
